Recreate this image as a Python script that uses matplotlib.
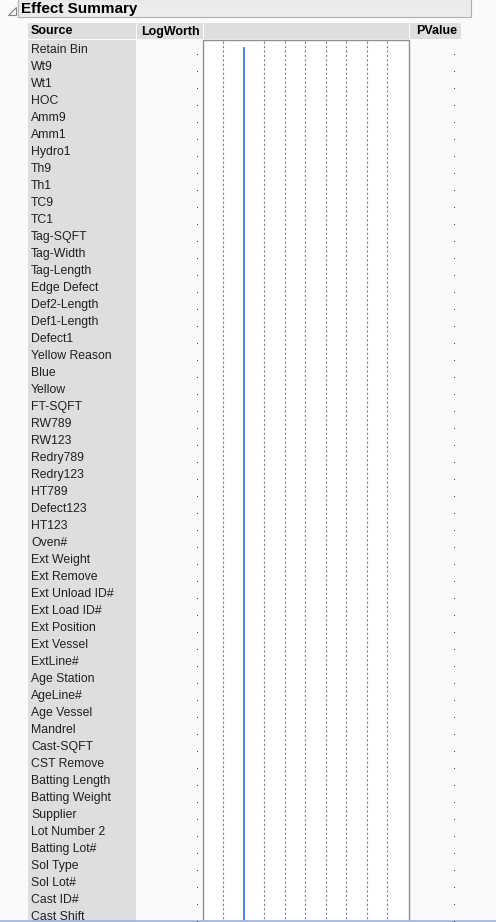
import matplotlib.pyplot as plt
from matplotlib.patches import Rectangle, Polygon

SOURCES = [
    "Retain Bin", "Wt9", "Wt1", "HOC", "Amm9", "Amm1", "Hydro1", "Th9", "Th1", "TC9", "TC1",
    "Tag-SQFT", "Tag-Width", "Tag-Length", "Edge Defect", "Def2-Length", "Def1-Length", "Defect1",
    "Yellow Reason", "Blue", "Yellow", "FT-SQFT", "RW789", "RW123", "Redry789", "Redry123", "HT789",
    "Defect123", "HT123", "Oven#", "Ext Weight", "Ext Remove", "Ext Unload ID#", "Ext Load ID#",
    "Ext Position", "Ext Vessel", "ExtLine#", "Age Station", "AgeLine#", "Age Vessel", "Mandrel",
    "Cast-SQFT", "CST Remove", "Batting Length", "Batting Weight", "Supplier", "Lot Number 2",
    "Batting Lot#", "Sol Type", "Sol Lot#", "Cast ID#", "Cast Shift",
]
LOGWORTH = ["."] * len(SOURCES)
PVALUE = ["."] * len(SOURCES)
GRID_X = [223, 264, 285, 305, 326, 346, 367, 387]
REF_X = 244

FONT = "Liberation Sans"
W, H = 496, 922
ROW0, ROW_H = 50, 17

fig = plt.figure(figsize=(W / 100, H / 100), dpi=100)
ax = fig.add_axes([0, 0, 1, 1])
ax.set_xlim(0, W)
ax.set_ylim(H, 0)
ax.axis("off")
fig.patch.set_facecolor("#fafafa")

# title bar
ax.add_patch(Rectangle((18, -1), 453, 18, facecolor="#ececec", edgecolor="#b0b0b0", lw=0.8))
ax.add_patch(Polygon([[8, 15], [16, 15], [16, 7]], closed=True, facecolor="white", edgecolor="#808080", lw=0.8))
ax.text(21, 8.5, "Effect Summary", fontsize=11, fontweight="bold", va="center", family=FONT)

# header
ax.add_patch(Rectangle((28, 23), 108, 16, facecolor="#dedede", lw=0))
ax.add_patch(Rectangle((137, 23), 66, 16, facecolor="#dedede", lw=0))
ax.add_patch(Rectangle((204, 23), 205, 16, facecolor="#dedede", lw=0))
ax.add_patch(Rectangle((410, 23), 51, 16, facecolor="#dedede", lw=0))
ax.text(31, 31.5, "Source", fontsize=9, fontweight="bold", va="center", family=FONT)
ax.text(200, 31.5, "LogWorth", fontsize=9, fontweight="bold", va="center", ha="right", family=FONT)
ax.text(457, 31.5, "PValue", fontsize=9, fontweight="bold", va="center", ha="right", family=FONT)

# source column background
ax.add_patch(Rectangle((28, 40), 108, H - 40, facecolor="#dedede", lw=0))

# plot box
ax.add_patch(Rectangle((203, 40), 206, H, facecolor="white", edgecolor="#909090", lw=1.0))
for gx in GRID_X:
    ax.plot([gx, gx], [41, H], color="#808080", lw=0.8, ls=(0, (2, 2)))
ax.plot([REF_X, REF_X], [48, H], color="#2f6fe6", lw=1.2)

for i, (src, lw_, pv) in enumerate(zip(SOURCES, LOGWORTH, PVALUE)):
    y = ROW0 + i * ROW_H
    ax.text(31, y, src, fontsize=8.8, va="center", color="#202020", family=FONT)
    ax.text(199, y + 2, lw_, fontsize=8, va="center", ha="right", family=FONT)
    ax.text(456, y + 2, pv, fontsize=8, va="center", ha="right", family=FONT)

ax.plot([0, W], [920.5, 920.5], color="#a8b8e0", lw=2)

fig.savefig("out.png", dpi=100, facecolor=fig.get_facecolor())
